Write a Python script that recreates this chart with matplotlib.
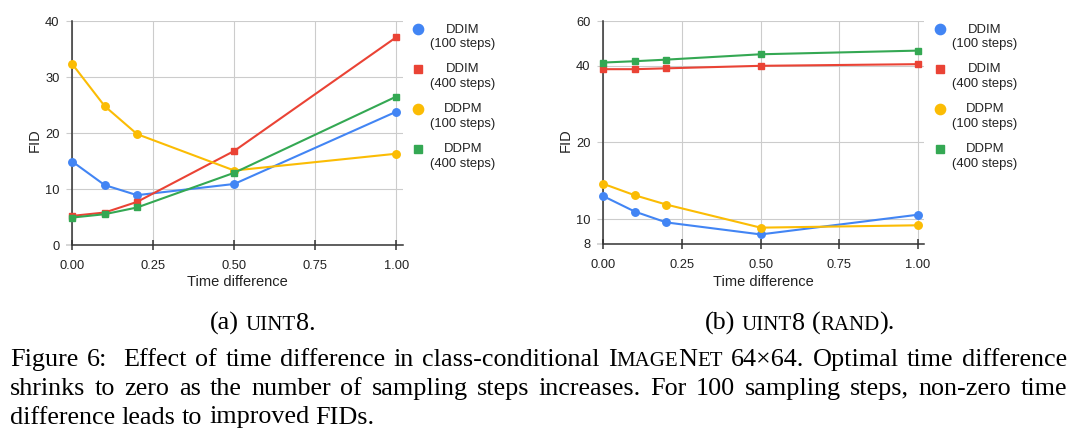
import re

import matplotlib
matplotlib.use('Agg')
import matplotlib.pyplot as plt
import numpy as np
from matplotlib.legend_handler import HandlerLine2D
from matplotlib.lines import Line2D
from matplotlib.ticker import FixedLocator, NullLocator
from matplotlib.transforms import IdentityTransform

W, H = 1078, 433

# data
time_diff = [0.0, 0.1, 0.2, 0.5, 1.0]
x_ticks = [0.0, 0.25, 0.5, 0.75, 1.0]
series_labels = ['DDIM\n(100 steps)', 'DDIM\n(400 steps)',
                 'DDPM\n(100 steps)', 'DDPM\n(400 steps)']

uint8_ddim_100 = [14.9, 10.7, 8.9, 10.9, 23.8]
uint8_ddim_400 = [5.2, 5.8, 7.7, 16.8, 37.1]
uint8_ddpm_100 = [32.3, 24.8, 19.8, 13.3, 16.3]
uint8_ddpm_400 = [4.9, 5.5, 6.7, 12.9, 26.5]
uint8_yticks = [0, 10, 20, 30, 40]

rand_ddim_100 = [12.3, 10.7, 9.7, 8.7, 10.4]
rand_ddim_400 = [38.8, 38.8, 39.1, 40.0, 40.6]
rand_ddpm_100 = [13.75, 12.4, 11.4, 9.25, 9.45]
rand_ddpm_400 = [41.2, 41.7, 42.3, 44.4, 45.9]
rand_yticks = [8, 10, 20, 40, 60]

subcaption_a = '(a) {uint}8.'
subcaption_b = '(b) {uint}8 ({rand}).'
caption_lines = [
    'Figure 6:  Effect of time difference in class-conditional I{mage}N{et} 64\u00d764. Optimal time difference',
    'shrinks to zero as the number of sampling steps increases. For 100 sampling steps, non-zero time',
    'difference leads to improved FIDs.',
]

COLORS = ['#4285F4', '#EA4335', '#FBBC04', '#34A853']
MARKERS = ['o', 's', 'o', 's']
PLOT_MS = [5.4, 4.9, 5.4, 4.9]
LEGEND_MS = [7.4, 5.4, 7.4, 5.4]
SANS = ['Liberation Sans', 'DejaVu Sans']
SERIF = ['Liberation Serif', 'DejaVu Serif']
SC = 0.8  # small caps scale

plt.rcParams['font.family'] = SANS


def fx(px):
    return px / W


def fy(py):
    return 1 - py / H


class RaisedHandler(HandlerLine2D):
    # put the legend marker next to the first line of a two-line label
    def create_artists(self, legend, orig_handle, xdescent, ydescent,
                       width, height, fontsize, trans):
        artists = super().create_artists(legend, orig_handle, xdescent,
                                         ydescent, width, height, fontsize,
                                         trans)
        for a in artists:
            a.set_ydata(np.asarray(a.get_ydata()) + 0.62 * fontsize)
        return artists


def draw_panel(ax, series, yticks, log, ylab_x, legend_x):
    for vals, label, c, m, ms in zip(series, series_labels, COLORS,
                                     MARKERS, PLOT_MS):
        ax.plot(time_diff, vals, color=c, marker=m, ms=ms, lw=1.5,
                label=label, clip_on=False, zorder=3)
    if log:
        ax.set_yscale('log')
    ax.set_ylim(yticks[0], yticks[-1])
    ax.yaxis.set_major_locator(FixedLocator(yticks))
    ax.yaxis.set_minor_locator(NullLocator())
    ax.set_yticklabels([str(t) for t in yticks])
    ax.set_xlim(0, 1.02)
    ax.set_xticks(x_ticks)
    ax.set_xticklabels(['{:.2f}'.format(t) for t in x_ticks])
    ax.grid(True, color='#cccccc', lw=0.8)
    ax.set_axisbelow(True)
    for side in ('top', 'right'):
        ax.spines[side].set_visible(False)
    for side in ('left', 'bottom'):
        ax.spines[side].set_color('#333333')
        ax.spines[side].set_linewidth(1.1)
    ax.tick_params(axis='x', direction='inout', length=7, width=1.1,
                   color='#333333', labelsize=9.3, pad=7.3,
                   labelcolor='#222222')
    ax.tick_params(axis='y', direction='out', length=4, width=0.8,
                   color='#cccccc', labelsize=9.3, pad=5.2,
                   labelcolor='#222222')
    ax.yaxis.get_major_ticks()[0].tick1line.set_color('#333333')
    ax.yaxis.get_major_ticks()[0].tick1line.set_markeredgewidth(1.1)

    ax.set_xlabel('Time difference', fontsize=10.5, color='#222222')
    ax.xaxis.label.set_verticalalignment('center')
    bb = ax.get_position()
    ax.xaxis.set_label_coords((bb.x0 + bb.x1) / 2, fy(281.7),
                              transform=ax.figure.transFigure)
    ax.set_ylabel('FID', fontsize=10.5, color='#222222')
    ax.yaxis.label.set_verticalalignment('center')
    ax.yaxis.set_label_coords(fx(ylab_x), fy(140),
                              transform=ax.figure.transFigure)

    handles = [Line2D([], [], color=c, marker=m, ms=ms, linestyle='none')
               for c, m, ms in zip(COLORS, MARKERS, LEGEND_MS)]
    leg = ax.legend(handles, series_labels, loc='upper left',
                    bbox_to_anchor=(fx(legend_x), fy(23.5)),
                    bbox_transform=ax.figure.transFigure, frameon=False,
                    borderpad=0, borderaxespad=0, handlelength=1.0,
                    handletextpad=0.45, labelspacing=1.0, fontsize=9.4,
                    handler_map={Line2D: RaisedHandler()})
    for t in leg.get_texts():
        t.set_multialignment('center')
        t.set_linespacing(1.32)
        t.set_color('#222222')


fig = plt.figure(figsize=(W / 100, H / 100), dpi=100)
ax_a = fig.add_axes([fx(72.3), fy(245), fx(402.7 - 72.3), 224 / H])
ax_b = fig.add_axes([fx(603.3), fy(243.7), fx(924.3 - 603.3), 222.7 / H])

draw_panel(ax_a, [uint8_ddim_100, uint8_ddim_400, uint8_ddpm_100,
                  uint8_ddpm_400], uint8_yticks, False, 34.7, 411.5)
draw_panel(ax_b, [rand_ddim_100, rand_ddim_400, rand_ddpm_100,
                  rand_ddpm_400], rand_yticks, True, 566, 933.5)

# captions: serif text with small caps, set word by word
renderer = fig.canvas.get_renderer()


def sc_runs(word):
    runs = []
    for p in re.split(r'(\{[^}]*\})', word):
        if not p:
            continue
        if p.startswith('{'):
            runs.append((p[1:-1].upper(), True))
        else:
            runs.append((p, False))
    return runs


def make_word(word, size):
    arts = [fig.text(0, 0, txt, fontsize=size * (SC if small else 1),
                     family=SERIF, color='black', va='baseline', ha='left',
                     transform=IdentityTransform())
            for txt, small in sc_runs(word)]
    widths = [a.get_window_extent(renderer).width for a in arts]
    return arts, widths


def build_line(line, size):
    words, weights, pending = [], [], 0
    for tok in line.split(' '):
        if tok == '':
            pending += 1
            continue
        if words:
            weights.append(1 + pending)
        pending = 0
        words.append(make_word(tok, size))
    return words, weights


def place_line(words, weights, x, y, gap):
    for i, (arts, widths) in enumerate(words):
        for a, w in zip(arts, widths):
            a.set_position((x, H - y))
            x += w
        if i < len(weights):
            x += gap * weights[i]


def line_width(words, weights, gap):
    return sum(sum(w) for _, w in words) + gap * sum(weights)


# size the serif text so the last caption line spans what it spans in the paper
probe, probe_w = build_line(caption_lines[2], 10)
natural = line_width(probe, probe_w, 0.25 * 10 * 100 / 72)
for arts, _ in probe:
    for a in arts:
        a.remove()
cap_size = 10 * (373 - 10) / natural
space = 0.25 * cap_size * 100 / 72

LEFT, RIGHT = 10, 1067
for line, y, justify in zip(caption_lines, [366, 395, 423.5],
                            [True, True, False]):
    words, weights = build_line(line, cap_size)
    if justify:
        gap = (RIGHT - LEFT - sum(sum(w) for _, w in words)) / sum(weights)
    else:
        gap = space
    place_line(words, weights, LEFT, y, gap)

for text, cx in [(subcaption_a, 263), (subcaption_b, 800)]:
    words, weights = build_line(text, cap_size)
    wtot = line_width(words, weights, space)
    place_line(words, weights, cx - wtot / 2, 329.5, space)

fig.savefig('out.png', dpi=100)
